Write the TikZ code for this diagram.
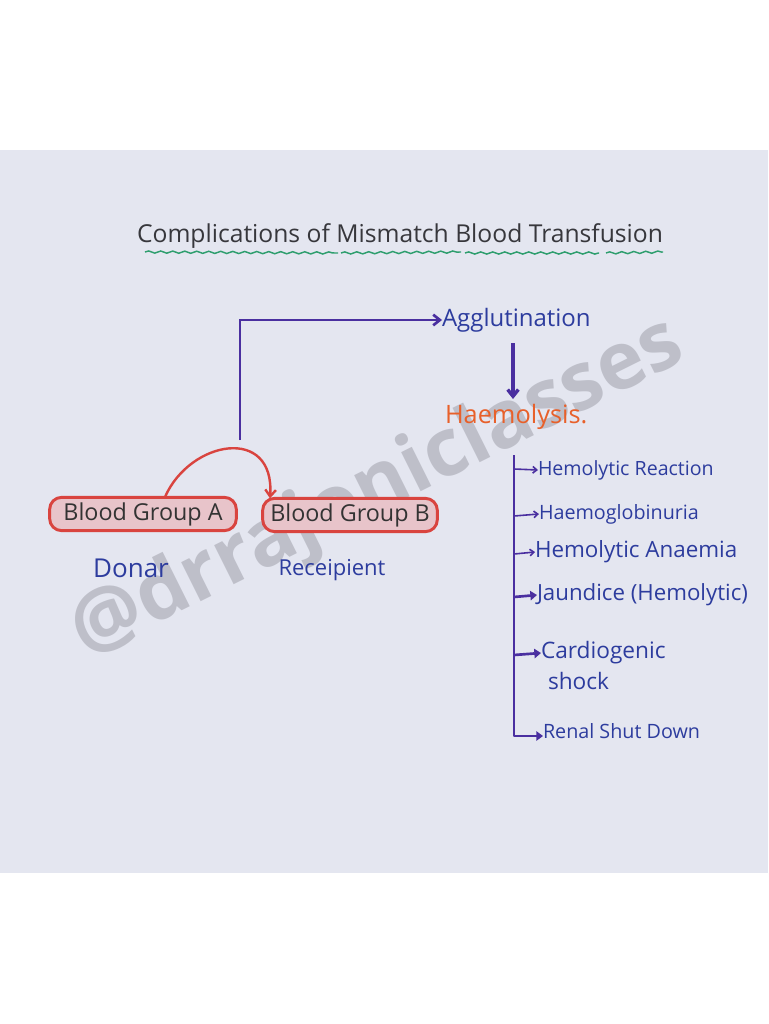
\documentclass[tikz,border=0pt]{standalone}
\usepackage{fontspec}
\setmainfont{Open Sans}
\usetikzlibrary{arrows.meta,decorations.pathmorphing}
\definecolor{paper}{RGB}{228,230,240}
\definecolor{ink}{RGB}{74,47,160}
\definecolor{bluetext}{RGB}{45,60,158}
\definecolor{redink}{RGB}{217,68,63}
\definecolor{pinkfill}{RGB}{232,196,202}
\definecolor{orangetext}{RGB}{232,96,42}
\definecolor{titletext}{RGB}{55,55,60}
\definecolor{greenink}{RGB}{46,158,110}
\definecolor{wmgray}{RGB}{120,120,130}
\begin{document}
\begin{tikzpicture}[x=0.75pt,y=-0.75pt,
  every node/.style={inner sep=0pt,outer sep=0pt},
  bluelabel/.style={text=bluetext,anchor=west},
  groupbox/.style={draw=redink,line width=2.2pt,fill=pinkfill,rounded corners=9pt,
    minimum height=25pt,font=\fontsize{17.5}{19}\selectfont,text=black!80},
  flow/.style={draw=ink,line width=2pt,-{Straight Barb[length=5pt,width=8pt]}},
  thinflow/.style={draw=ink,line width=1.2pt,-{Straight Barb[length=3pt,width=5pt]}},
  boldflow/.style={draw=ink,line width=2pt,-{Triangle[length=5pt,width=7pt]}},
  wavy/.style={draw=greenink,line width=1.1pt,decorate,decoration={snake,amplitude=0.8pt,segment length=9pt}}]
\useasboundingbox (0,0) rectangle (768,1024);
\fill[white] (0,0) rectangle (768,1024);
\fill[paper] (0,150) rectangle (768,873);

% watermark (behind the ink)
\node[text=wmgray,opacity=0.35,rotate=26.5,font=\fontsize{60}{66}\selectfont\bfseries] (wm) at (378,490) {@drrajoniclasses};

% title
\node[text=titletext,font=\fontsize{18.5}{21}\selectfont] (title) at (400,236) {Complications of Mismatch Blood Transfusion};
\draw[wavy] (145,252) -- (338,253);
\draw[wavy] (341,253) -- (461,252);
\draw[wavy] (465,253) -- (599,253);
\draw[wavy] (606,253) -- (663,252);

% agglutination chain
\node[bluelabel,font=\fontsize{18}{20}\selectfont] (agg) at (442,320) {Agglutination};
\coordinate (stem) at (240,440);
\draw[flow] (stem) |- (agg.west);
\node[text=orangetext,font=\fontsize{19}{21}\selectfont,anchor=west] (haem) at (445,417) {Haemolysis.};
\coordinate (aggdown) at (513,343);
\draw[flow,line width=2.6pt] (aggdown) -- (513,399);

% blood groups
\node[groupbox,minimum width=140pt] (ga) at (143,514) {Blood Group A};
\node[groupbox,minimum width=131pt] (gb) at (350,515) {Blood Group B};
\coordinate (arcstart) at (165,497);
\draw[redink,line width=1.8pt,-{Straight Barb[length=5pt,width=8pt]}]
  (arcstart) .. controls (190,440) and (275,425) .. (gb.north -| 270,0);
\node[bluelabel,anchor=center,font=\fontsize{19.5}{21}\selectfont] (donor) at (131,568) {Donar};
\node[bluelabel,anchor=center,font=\fontsize{16.5}{19}\selectfont] (recip) at (332,570) {Receipient};

% complications list
\node[bluelabel,font=\fontsize{14.7}{17}\selectfont] (c1) at (538,470) {Hemolytic Reaction};
\node[bluelabel,font=\fontsize{14.8}{17}\selectfont] (c2) at (539,514) {Haemoglobinuria};
\node[bluelabel,font=\fontsize{16.8}{19}\selectfont] (c3) at (535,552) {Hemolytic Anaemia};
\node[bluelabel,font=\fontsize{16.7}{19}\selectfont] (c4) at (537,595) {Jaundice (Hemolytic)};
\node[bluelabel,font=\fontsize{17}{19}\selectfont] (c5) at (541,653) {Cardiogenic};
\node[bluelabel,font=\fontsize{17}{19}\selectfont] (c5b) at (548,681) {shock};
\node[bluelabel,font=\fontsize{14.8}{17}\selectfont] (c6) at (543,731) {Renal Shut Down};

\coordinate (ltop) at (514,455);
\coordinate (lbot) at (514,736);
\draw[ink,line width=2.2pt] (ltop) -- (lbot);
\draw[thinflow] (514,469) -- (c1.west);
\draw[thinflow] (514,516) -- (c2.west);
\draw[thinflow] (514,554) -- (c3.west);
\draw[boldflow] (514,597) -- (c4.west);
\draw[boldflow] (514,655) -- (c5.west);
\draw[boldflow,line join=round] (514,720) |- (c6.west |- 0,736);
\end{tikzpicture}
\end{document}
